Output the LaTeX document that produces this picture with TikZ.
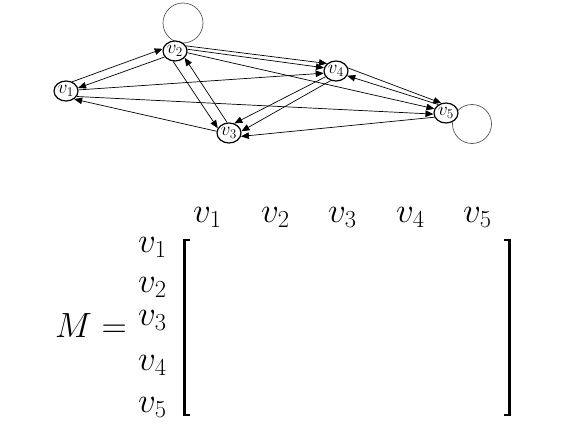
\RequirePackage{fix-cm}
\documentclass[tikz,border=0pt]{standalone}
\usetikzlibrary{arrows.meta,shapes.geometric}
\begin{document}
\begin{tikzpicture}[x=1pt,y=-1pt,
  vnode/.style={ellipse,draw,fill=white,line width=1.2pt,minimum width=24pt,minimum height=20pt,inner sep=0pt,font=\fontsize{19}{19}\selectfont},
  edge/.style={line width=0.7pt,-{Triangle[length=8pt,width=6.5pt]}},
  loopc/.style={line width=0.7pt,draw=black!65},
  lab/.style={inner sep=0pt,font=\fontsize{35}{40}\selectfont},
  brk/.style={line width=2.3pt,line join=miter}]
\useasboundingbox (0,0) rectangle (563,439);
% loops
\coordinate (l2) at (183,23);
\coordinate (l5) at (472,124);
\draw[loopc] (l2) circle[radius=20];
\draw[loopc] (l5) circle[radius=19.5];
% vertices
\node[vnode] (v1) at (66,91) {$v_1$};
\node[vnode] (v2) at (175,51) {$v_2$};
\node[vnode] (v3) at (229,133) {$v_3$};
\node[vnode] (v4) at (336,71) {$v_4$};
\node[vnode] (v5) at (446,113) {$v_5$};
% edges
\draw[edge] (v1.56) -- (v2.170);
\draw[edge] (v2.210) -- (v1.14);
\draw[edge] (v2.-100) -- (v3.157);
\draw[edge] (v3.100) -- (v2.-35);
\draw[edge] (v3.172) -- (v1.-45);
\draw[edge] (v2.25) -- (v4.140);
\draw[edge] (v2.8) -- (v4.165);
\draw[edge] (v2.-8) -- (v5.160);
\draw[edge] (v1.5) -- (v4.190);
\draw[edge] (v1.-27) -- (v5.185);
\draw[edge] (v4.209) -- (v3.61);
\draw[edge] (v4.241) -- (v3.8);
\draw[edge] (v5.200) -- (v3.-16);
\draw[edge] (v4.14) -- (v5.115);
\draw[edge] (v5.132) -- (v4.-23);
% matrix
\node[lab,anchor=base west] (c1) at (193,222) {$v_1$};
\node[lab,anchor=base west] (c2) at (261,222) {$v_2$};
\node[lab,anchor=base west] (c3) at (328,222) {$v_3$};
\node[lab,anchor=base west] (c4) at (396,222) {$v_4$};
\node[lab,anchor=base west] (c5) at (463,222) {$v_5$};
\node[lab,anchor=base west] (r1) at (138,252) {$v_1$};
\node[lab,anchor=base west] (r2) at (138,292) {$v_2$};
\node[lab,anchor=base west] (r3) at (138,325) {$v_3$};
\node[lab,anchor=base west] (r4) at (138,370) {$v_4$};
\node[lab,anchor=base west] (r5) at (138,412) {$v_5$};
\node[lab,anchor=base east] (m) at (127,337) {$M =$};
\draw[brk] (190,240) -- (184.5,240) -- (184.5,415) -- (190,415);
\draw[brk] (503.5,240) -- (509.5,240) -- (509.5,415) -- (503.5,415);
\end{tikzpicture}
\end{document}
